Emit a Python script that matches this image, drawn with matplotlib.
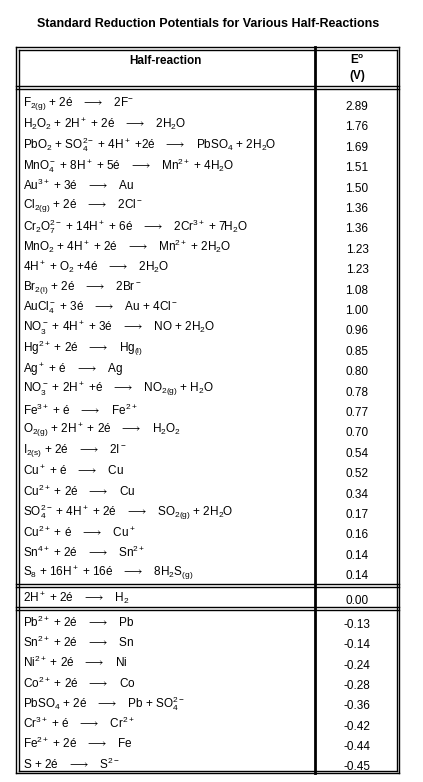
import matplotlib.pyplot as plt

plt.rcParams['font.family'] = ['Liberation Sans', 'DejaVu Sans']
plt.rcParams['mathtext.fontset'] = 'custom'
plt.rcParams['mathtext.rm'] = 'Liberation Sans'
plt.rcParams['mathtext.it'] = 'Liberation Sans'
plt.rcParams['mathtext.bf'] = 'Liberation Sans:bold'

ARROW = r'   $\longrightarrow$   '

# (left side, right side, E in volts), grouped as in the table
positive = [
    (r'F$_{2(g)}$ + 2é', r'2F$^{-}$', '2.89'),
    (r'H$_2$O$_2$ + 2H$^+$ + 2é', r'2H$_2$O', '1.76'),
    (r'PbO$_2$ + SO$_4^{2-}$ + 4H$^+$ +2é', r'PbSO$_4$ + 2H$_2$O', '1.69'),
    (r'MnO$_4^-$ + 8H$^+$ + 5é', r'Mn$^{2+}$ + 4H$_2$O', '1.51'),
    (r'Au$^{3+}$ + 3é', r'Au', '1.50'),
    (r'Cl$_{2(g)}$ + 2é', r'2Cl$^-$', '1.36'),
    (r'Cr$_2$O$_7^{2-}$ + 14H$^+$ + 6é', r'2Cr$^{3+}$ + 7H$_2$O', '1.36'),
    (r'MnO$_2$ + 4H$^+$ + 2é', r'Mn$^{2+}$ + 2H$_2$O', '1.23'),
    (r'4H$^+$ + O$_2$ +4é', r'2H$_2$O', '1.23'),
    (r'Br$_{2(l)}$ + 2é', r'2Br$^-$', '1.08'),
    (r'AuCl$_4^-$ + 3é', r'Au + 4Cl$^-$', '1.00'),
    (r'NO$_3^-$ + 4H$^+$ + 3é', r'NO + 2H$_2$O', '0.96'),
    (r'Hg$^{2+}$ + 2é', r'Hg$_{(l)}$', '0.85'),
    (r'Ag$^+$ + é', r'Ag', '0.80'),
    (r'NO$_3^-$ + 2H$^+$ +é', r'NO$_{2(g)}$ + H$_2$O', '0.78'),
    (r'Fe$^{3+}$ + é', r'Fe$^{2+}$', '0.77'),
    (r'O$_{2(g)}$ + 2H$^+$ + 2é', r'H$_2$O$_2$', '0.70'),
    (r'I$_{2(s)}$ + 2é', r'2I$^-$', '0.54'),
    (r'Cu$^+$ + é', r'Cu', '0.52'),
    (r'Cu$^{2+}$ + 2é', r'Cu', '0.34'),
    (r'SO$_4^{2-}$ + 4H$^+$ + 2é', r'SO$_{2(g)}$ + 2H$_2$O', '0.17'),
    (r'Cu$^{2+}$ + é', r'Cu$^+$', '0.16'),
    (r'Sn$^{4+}$ + 2é', r'Sn$^{2+}$', '0.14'),
    (r'S$_8$ + 16H$^+$ + 16é', r'8H$_2$S$_{(g)}$', '0.14'),
]
reference = [(r'2H$^+$ + 2é', r'H$_2$', '0.00')]
negative = [
    (r'Pb$^{2+}$ + 2é', r'Pb', '-0.13'),
    (r'Sn$^{2+}$ + 2é', r'Sn', '-0.14'),
    (r'Ni$^{2+}$ + 2é', r'Ni', '-0.24'),
    (r'Co$^{2+}$ + 2é', r'Co', '-0.28'),
    (r'PbSO$_4$ + 2é', r'Pb + SO$_4^{2-}$', '-0.36'),
    (r'Cr$^{3+}$ + é', r'Cr$^{2+}$', '-0.42'),
    (r'Fe$^{2+}$ + 2é', r'Fe', '-0.44'),
    (r'S + 2é', r'S$^{2-}$', '-0.45'),
]

W, H = 423, 782
fig = plt.figure(figsize=(W / 100, H / 100), dpi=100)
ax = fig.add_axes([0, 0, 1, 1])
ax.set_xlim(0, W)
ax.set_ylim(H, 0)
ax.axis('off')

def hline(y, x0=16, x1=399, lw=1.0):
    ax.plot([x0, x1], [y, y], color='black', lw=lw)

def vline(x, y0, y1, lw=1.0):
    ax.plot([x, x], [y0, y1], color='black', lw=lw)

ax.text(208, 24, 'Standard Reduction Potentials for Various Half-Reactions',
        ha='center', va='center', fontsize=9, fontweight='bold')

top, bottom = 47, 773
# outer double frame
for d in (0, 2.5):
    hline(top + d, 16 + d, 399 - d)
    hline(bottom - d, 16 + d, 399 - d)
    vline(16 + d, top + d, bottom - d)
    vline(399 - d, top + d, bottom - d)
vline(315, top, bottom, lw=2)

ax.text(165, 61, 'Half-reaction', ha='center', va='center', fontsize=8.5, fontweight='bold')
ax.text(357, 60, 'E$^{\\mathbf{o}}$', ha='center', va='center', fontsize=8.5, fontweight='bold')
ax.text(357, 76, '(V)', ha='center', va='center', fontsize=8.5, fontweight='bold')

def draw_group(rows, y0, step):
    for i, (lhs, rhs, e) in enumerate(rows):
        y = y0 + i * step
        ax.text(23, y, lhs + ARROW + rhs, ha='left', va='center', fontsize=8.5)
        ax.text(357, y + 3, e, ha='center', va='center', fontsize=8.5)

hline(86); hline(89)
draw_group(positive, 104, 20.4)
hline(584); hline(587)
draw_group(reference, 598, 20)
hline(607); hline(610)
draw_group(negative, 622, 20.3)

fig.savefig('out.png', dpi=100)
